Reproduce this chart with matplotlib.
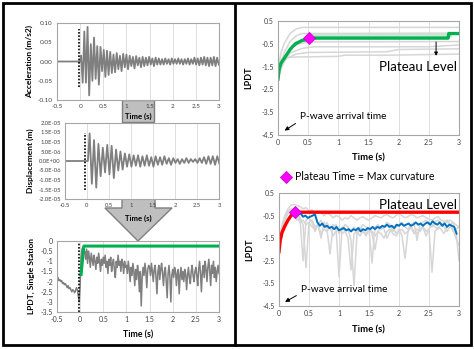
import numpy as np
import matplotlib
matplotlib.use('Agg')
import matplotlib.pyplot as plt
from matplotlib.patches import Rectangle, Polygon
from matplotlib.lines import Line2D

plt.rcParams['font.family'] = ['Lato', 'DejaVu Sans']

# ---- data -------------------------------------------------------------
# acceleration half-cycle extremes (m/s2), first one at 0.02 s, every 0.035 s
acc_peaks = [0.015, -0.055, 0.078, -0.055, 0.09, -0.088, 0.045, -0.05, 0.062, -0.045,
             0.04, -0.06, 0.038, -0.025, 0.03, -0.04, 0.028, -0.035, 0.025, -0.03,
             0.018, -0.028, 0.022, -0.02, 0.015, -0.025, 0.02, -0.015, 0.018, -0.02,
             0.015, -0.012, 0.012, -0.018, 0.014, -0.01, 0.01, -0.015, 0.012, -0.012,
             0.01, -0.01, 0.012, -0.008, 0.008, -0.012, 0.01, -0.008, 0.008, -0.008,
             0.006, -0.008, 0.008, -0.006, 0.006, -0.008, 0.008, -0.006, 0.006, -0.006,
             0.008, -0.006, 0.006, -0.008, 0.006, -0.006, 0.008, -0.008, 0.006, -0.006,
             0.01, -0.008, 0.008, -0.01, 0.01, -0.008, 0.012, -0.01, 0.01, -0.012,
             0.01, -0.01, 0.012, -0.012, 0.01, -0.008]

# displacement half-cycle extremes (x1e-6 m), first one at 0.06 s, every 0.05 s
disp_peaks = [14.5, -12, 11, -14, 9, -8, 7, -6, 8.5, -7, 8, -9, 6, -5, 5, -4.5, 4, -3,
              3.5, -3, 3, -2.5, 3, -3, 2.5, -2.5, 3, -2.5, 2, -3, 2.5, -2, 2, -2, 2.5,
              -1.5, 1.5, -2, 1.5, -1, 1, -1.5, 1, -1, 1.5, -1, 1, -0.5, 1, -1, 1.5, -1,
              2, -1.5, 2.5, -1.5, 2.5, -2, 2.5, -1.5]

# single station LPDT, sampled every 0.02 s
lpdt_pre = [-1.85, -1.8, -1.95, -1.9, -2.0, -1.95, -2.1, -2.05, -2.15, -2.1, -2.2, -2.3,
            -2.2, -2.35, -2.3, -2.4, -2.5, -2.4, -2.45, -2.55, -2.45, -2.3, -2.4, -2.7, -3.0]
lpdt_post = [-2.2, -0.8, -0.4, -0.3, -0.6,
             -0.5, -0.9, -0.4, -1.1, -0.5, -0.8, -1.3, -0.6, -0.9, -1.2, -0.7, -1.0, -1.4,
             -0.8, -1.1, -0.6, -1.0, -1.5, -0.9, -1.2,
             -0.8, -1.1, -0.7, -1.3, -1.0, -1.6, -0.9, -1.2, -0.8, -1.5, -1.1, -0.9, -1.4,
             -1.8, -1.0, -1.3, -0.7, -1.2, -1.0, -1.5, -0.9, -1.1, -1.6, -1.0, -1.3,
             -1.2, -1.6, -1.0, -1.4, -2.0, -1.3, -1.7, -1.1, -1.5, -2.2, -1.4, -1.9, -1.2,
             -1.6, -2.5, -1.5, -3.2, -1.8, -1.3, -1.7, -1.1, -1.5, -2.3, -1.4, -1.2,
             -1.3, -1.7, -1.1, -1.5, -2.0, -1.4, -1.2, -1.8, -2.6, -1.5, -1.2, -1.9, -1.4,
             -1.1, -1.6, -2.2, -1.5, -1.3, -2.0, -2.8, -1.6, -1.2, -1.8, -3.0, -1.7,
             -1.4, -1.8, -1.3, -1.5, -2.2, -1.6, -1.4, -2.6, -1.7, -1.3, -1.9, -1.5, -2.0,
             -1.4, -1.6, -2.4, -1.7, -1.3, -1.8, -2.1, -1.5, -1.2, -1.7, -2.0, -1.5,
             -1.3, -1.7, -2.2, -1.4, -1.0, -1.6, -2.5, -1.5, -1.2, -1.8, -1.0, -1.4, -2.0,
             -1.3, -0.9, -1.5, -2.2, -1.2, -1.6, -1.0, -1.8, -1.3, -2.0, -1.5, -1.2, -1.6]
single_plateau_t = [0.02, 0.08, 3.0]
single_plateau_v = [-1.65, -0.25, -0.25]

# multi-station curves, top panel
top_gray = [
    ([0, 0.05, 0.1, 0.2, 0.3, 0.4, 3.0], [-1.6, -0.9, -0.5, -0.05, 0.15, 0.22, 0.22]),
    ([0, 0.1, 0.2, 0.3, 0.4, 3.0], [-1.8, -0.9, -0.4, -0.15, -0.05, -0.03]),
    ([0, 0.1, 0.2, 0.35, 0.5, 3.0], [-2.0, -1.2, -0.7, -0.5, -0.42, -0.4]),
    ([0, 0.1, 0.2, 0.4, 0.6, 2.5, 3.0], [-1.9, -1.3, -0.9, -0.7, -0.63, -0.63, -0.55]),
    ([0, 0.1, 0.3, 0.5, 1.8, 2.0, 3.0], [-1.9, -1.2, -0.95, -0.88, -0.85, -0.75, -0.72]),
    ([0, 0.05, 0.1, 0.3, 1.0, 1.1, 1.8, 3.0], [-1.6, -1.2, -1.1, -1.08, -1.05, -1.0, -1.0, -0.95]),
]
top_band_t = [0.5, 2.85]
top_band_v = [-0.13, -0.13]
top_green_t = [0, 0.02, 0.05, 0.1, 0.15, 0.2, 0.25, 0.3, 0.35, 0.4, 0.45, 0.5, 2.82, 2.83, 3.0]
top_green_v = [-2.05, -1.6, -1.35, -1.15, -0.95, -0.75, -0.6, -0.48, -0.42, -0.35, -0.33,
               -0.25, -0.25, -0.05, -0.05]
top_plateau = (0.51, -0.25)

# multi-station curves, bottom panel (every 0.05 s from 0)
bot_gray = [
    [-1.9, -1.0, -0.5, -0.2, -0.05, 0.0, -0.05, -0.1, -0.2, -0.15, -0.3, -0.25, -0.4, -0.3,
     -0.35, -0.5, -0.4, -0.45, -0.6, -0.5, -0.55, -0.7, -0.6, -0.65, -0.5, -0.6, -0.7, -0.6,
     -0.55, -0.65, -0.7, -0.6, -0.5, -0.55, -0.6, -0.5, -0.45, -0.55, -0.6, -0.5, -0.4, -0.5,
     -0.6, -0.55, -0.45, -0.5, -0.6, -0.55, -0.5, -0.6, -0.65, -0.7, -0.6, -0.55, -0.7,
     -0.75, -0.8, -0.7, -0.8, -0.9, -1.0],
    [-2.2, -1.3, -0.7, -0.4, -0.3, -0.5, -0.7, -0.6, -0.9, -2.8, -0.8, -0.7, -1.0, -0.9,
     -1.5, -0.8, -1.1, -2.2, -1.0, -0.9, -1.3, -1.0, -1.2, -1.1, -1.6, -3.6, -1.3, -1.0,
     -1.2, -1.4, -1.1, -1.3, -2.0, -1.2, -1.0, -1.1, -1.5, -1.2, -1.0, -1.3, -1.1, -1.4,
     -2.4, -1.2, -1.0, -1.3, -1.1, -1.2, -1.0, -1.4, -1.1, -3.0, -1.2, -1.0, -1.1, -1.3,
     -1.0, -0.9, -1.2, -1.1, -1.0],
    [-2.0, -1.1, -0.6, -0.3, -0.2, -0.25, -0.4, -0.6, -2.5, -0.7, -0.6, -0.8, -1.2, -0.9,
     -0.7, -1.0, -0.8, -1.1, -0.9, -1.0, -3.2, -1.1, -0.9, -1.0, -1.2, -1.0, -1.3, -1.1,
     -0.9, -1.0, -1.1, -2.6, -1.0, -0.9, -1.1, -1.0, -0.8, -0.9, -1.2, -1.0, -0.9, -0.8,
     -1.0, -1.1, -0.9, -0.8, -1.6, -0.9, -0.8, -0.7, -0.9, -1.0, -0.8, -0.7, -0.9, -0.8,
     -0.7, -0.9, -0.8, -1.2, -2.5],
    [-1.7, -0.9, -0.5, -0.35, -0.4, -0.6, -0.5, -0.8, -0.7, -0.9, -0.8, -1.0, -1.1, -0.9,
     -1.3, -1.1, -1.2, -1.0, -1.4, -1.2, -1.1, -1.3, -1.2, -1.5, -2.9, -1.3, -1.2, -1.4,
     -1.2, -1.3, -1.1, -1.2, -1.4, -1.2, -1.3, -1.5, -1.2, -1.1, -1.3, -1.4, -1.2, -1.1,
     -1.3, -1.2, -1.0, -1.2, -1.3, -1.1, -1.0, -1.2, -1.1, -0.9, -1.0, -1.1, -0.9, -1.0,
     -1.2, -1.0, -1.1, -1.5, -1.8],
]
bot_red_t = [0, 0.02, 0.05, 0.1, 0.15, 0.2, 0.25, 0.28, 3.0]
bot_red_v = [-2.1, -1.6, -1.25, -0.95, -0.7, -0.5, -0.4, -0.35, -0.35]
# station average after the plateau time, every 0.04 s from 0.28 s
bot_blue = [-0.35, -0.45, -0.4, -0.55, -0.5, -0.6, -0.55, -0.5, -0.45, -0.8, -0.95, -0.85,
            -1.0, -0.95, -1.05, -1.0, -1.1, -1.0, -1.15, -1.1, -1.05, -1.15, -1.1, -1.2,
            -1.1, -1.15, -1.05, -1.2, -1.1, -1.15, -1.05, -1.1, -1.0, -1.1, -1.0, -1.05,
            -0.95, -1.0, -0.9, -1.0, -0.95, -1.05, -0.9, -0.95, -0.85, -0.95, -0.9, -0.85,
            -0.95, -0.9, -0.8, -0.9, -0.85, -0.95, -0.85, -0.8, -0.9, -0.75, -0.85, -0.9,
            -0.8, -0.95, -0.85, -1.0, -0.9, -0.95, -1.0, -1.3]
bot_plateau = (0.27, -0.35)

x_ticks = [-0.5, 0, 0.5, 1, 1.5, 2, 2.5, 3]
x_labels = ['-0.5', '0', '0.5', '1', '1.5', '2', '2.5', '3']
xr_ticks = [0, 0.5, 1, 1.5, 2, 2.5, 3]
xr_labels = ['0', '0.5', '1', '1.5', '2', '2.5', '3']
acc_ticks = [-0.10, -0.05, 0.0, 0.05, 0.10]
disp_ticks = [-2e-5, -1.5e-5, -1e-5, -5e-6, 0, 5e-6, 1e-5, 1.5e-5, 2e-5]
lpdt1_ticks = [-3.5, -3, -2.5, -2, -1.5, -1, -0.5, 0]
lpdt1_labels = ['-3.5', '-3', '-2.5', '-2', '-1.5', '-1', '-0.5', '0']
lpdt_ticks = [-4.5, -3.5, -2.5, -1.5, -0.5, 0.5]

# ---- layout -----------------------------------------------------------
W, H = 474, 349
TRACE = '#7f7f7f'
LIGHT = '#d6d6d6'
GREEN = '#00b050'


def px_box(l, t, r, b):
    return [l / W, 1 - b / H, (r - l) / W, (b - t) / H]


def fx(x):
    return x / W


def fy(y):
    return 1 - y / H


def style_axes(ax, fs=4.6):
    for s in ax.spines.values():
        s.set_color('#a6a6a6')
        s.set_linewidth(0.8)
    ax.tick_params(length=0, labelsize=fs, pad=3, colors='#404040')
    ax.grid(axis='x', color='#d9d9d9', lw=0.6)
    ax.set_axisbelow(True)


fig = plt.figure(figsize=(W / 100, H / 100), dpi=100)

# frame around both halves
fig.patches.append(Rectangle((fx(3), fy(345)), fx(468), (342) / H, fill=False,
                             lw=2, ec='black', transform=fig.transFigure, zorder=5))
fig.add_artist(Line2D([fx(235), fx(235)], [fy(4), fy(345)], color='black', lw=2,
                      transform=fig.transFigure, zorder=5))

# grey arrows between the left panels
fig.patches.append(Rectangle((fx(122), fy(122)), fx(32), 22 / H, fc='#bfbfbf',
                             ec='#7f7f7f', lw=1, transform=fig.transFigure, zorder=-1))
arrow_px = [(122, 199), (155, 199), (155, 208), (172, 208), (138, 241), (105, 208), (122, 208)]
fig.patches.append(Polygon([(fx(x), fy(y)) for x, y in arrow_px], closed=True, fc='#bfbfbf',
                           ec='#7f7f7f', lw=1, transform=fig.transFigure, zorder=-1))

# acceleration
ax1 = fig.add_axes(px_box(57, 23, 219, 100))
t_acc = 0.02 + 0.035 * np.arange(len(acc_peaks))
ax1.plot(np.r_[-0.5, 0.0, t_acc], np.r_[0, 0, acc_peaks], color=TRACE, lw=1.3)
ax1.plot([-0.02, -0.02], [-0.065, 0.085], color='black', ls=(0, (1, 1)), lw=1.2)
ax1.set_xlim(-0.5, 3)
ax1.set_ylim(-0.1, 0.1)
ax1.set_xticks(x_ticks, x_labels)
ax1.set_yticks(acc_ticks, ['%.2f' % v for v in acc_ticks])
ax1.set_ylabel('Acceleration (m/s2)', fontsize=6, fontweight='bold', labelpad=3)
style_axes(ax1)
fig.text(fx(138), fy(116), 'Time (s)', fontsize=5.6, fontweight='bold', ha='center', va='center')

# displacement
ax2 = fig.add_axes(px_box(65, 123, 219, 199))
t_disp = 0.06 + 0.05 * np.arange(len(disp_peaks))
ax2.plot(np.r_[-0.5, 0.02, t_disp], np.r_[0, 0, np.array(disp_peaks) * 1e-6],
         color=TRACE, lw=1.3)
ax2.plot([-0.05, -0.05], [-1.5e-5, 1.5e-5], color='black', ls=(0, (1, 1)), lw=1.2)
ax2.set_xlim(-0.5, 3)
ax2.set_ylim(-2e-5, 2e-5)
ax2.set_xticks(x_ticks, x_labels)
ax2.set_yticks(disp_ticks, ['%.1E' % v for v in disp_ticks])
ax2.set_ylabel('Displacement (m)', fontsize=6, fontweight='bold', labelpad=3)
style_axes(ax2, 4.2)
fig.text(fx(138), fy(218), 'Time (s)', fontsize=5.6, fontweight='bold', ha='center', va='center')

# single-station LPDT
ax3 = fig.add_axes(px_box(57, 241, 219, 312))
t_pre = -0.5 + 0.02 * np.arange(len(lpdt_pre))
t_post = 0.02 * np.arange(len(lpdt_post))
ax3.plot(np.r_[t_pre, t_post], np.r_[lpdt_pre, lpdt_post], color=TRACE, lw=1.1)
ax3.plot(single_plateau_t, single_plateau_v, color=GREEN, lw=2.2)
ax3.plot([-0.03, -0.03], [-3.5, 0], color='black', ls=(0, (1, 1)), lw=1.2)
ax3.set_xlim(-0.5, 3)
ax3.set_ylim(-3.5, 0)
ax3.set_xticks(x_ticks, x_labels)
ax3.set_yticks(lpdt1_ticks, lpdt1_labels)
ax3.set_ylabel('LPDT, Single Station', fontsize=6, fontweight='bold', labelpad=4)
style_axes(ax3, 5)
fig.text(fx(138), fy(335), 'Time (s)', fontsize=6.3, fontweight='bold', ha='center', va='center')

# multi-station, top
ax4 = fig.add_axes(px_box(278, 21, 459, 135))
for t, v in top_gray:
    ax4.plot(t, v, color=LIGHT, lw=1.1)
ax4.plot(top_band_t, top_band_v, color='#c6e8d0', lw=2.5)
ax4.plot(top_green_t, top_green_v, color=GREEN, lw=2.4)
ax4.plot(*top_plateau, marker='D', ms=6.5, color='#ff00ff', mec='#cc00cc', mew=0.6, zorder=5)
ax4.annotate('', xy=(2.62, -1.15), xytext=(2.62, -0.3),
             arrowprops=dict(arrowstyle='-|>', color='black', lw=0.7, mutation_scale=5))
ax4.text(2.97, -1.52, 'Plateau Level', fontsize=9.5, ha='right', va='center')
ax4.annotate('', xy=(0.07, -4.37), xytext=(0.33, -3.93),
             arrowprops=dict(arrowstyle='-|>', color='black', lw=0.7, mutation_scale=6))
ax4.text(0.37, -3.71, 'P-wave arrival time', fontsize=7.3, ha='left', va='center')
ax4.set_xlim(0, 3)
ax4.set_ylim(-4.5, 0.5)
ax4.set_xticks(xr_ticks, xr_labels)
ax4.set_yticks(lpdt_ticks, ['%g' % v for v in lpdt_ticks])
ax4.set_ylabel('LPDT', fontsize=6.5, fontweight='bold', labelpad=6)
style_axes(ax4, 5)
fig.text(fx(368), fy(158), 'Time (s)', fontsize=6.8, fontweight='bold', ha='center', va='center')

# legend line for the diamond
fig.add_artist(Line2D([fx(286)], [fy(177)], marker='D', ms=6.5, color='#ff00ff',
                      mec='#cc00cc', mew=0.6, transform=fig.transFigure))
fig.text(fx(295), fy(177), 'Plateau Time = Max curvature', fontsize=7.6, ha='left', va='center')

# multi-station, bottom
ax5 = fig.add_axes(px_box(279, 193, 459, 306))
t_b = 0.05 * np.arange(len(bot_gray[0]))
for v in bot_gray:
    ax5.plot(t_b, v, color=LIGHT, lw=1.1)
ax5.plot(bot_red_t, bot_red_v, color='#ff0000', lw=2.4)
t_blue = 0.28 + 0.04 * np.arange(len(bot_blue))
ax5.plot(t_blue, bot_blue, color='#0070c0', lw=1.4)
ax5.plot(*bot_plateau, marker='D', ms=6.5, color='#ff00ff', mec='#cc00cc', mew=0.6, zorder=5)
ax5.text(2.97, -0.03, 'Plateau Level', fontsize=9.5, ha='right', va='center')
ax5.annotate('', xy=(0.06, -4.38), xytext=(0.33, -3.98),
             arrowprops=dict(arrowstyle='-|>', color='black', lw=0.7, mutation_scale=6))
ax5.text(0.37, -3.79, 'P-wave arrival time', fontsize=7.3, ha='left', va='center')
ax5.set_xlim(0, 3)
ax5.set_ylim(-4.5, 0.5)
ax5.set_xticks(xr_ticks, xr_labels)
ax5.set_yticks(lpdt_ticks, ['%g' % v for v in lpdt_ticks])
ax5.set_ylabel('LPDT', fontsize=6.5, fontweight='bold', labelpad=6)
style_axes(ax5, 5)
fig.text(fx(368), fy(330), 'Time (s)', fontsize=6.8, fontweight='bold', ha='center', va='center')

fig.savefig('out.png', dpi=100)
